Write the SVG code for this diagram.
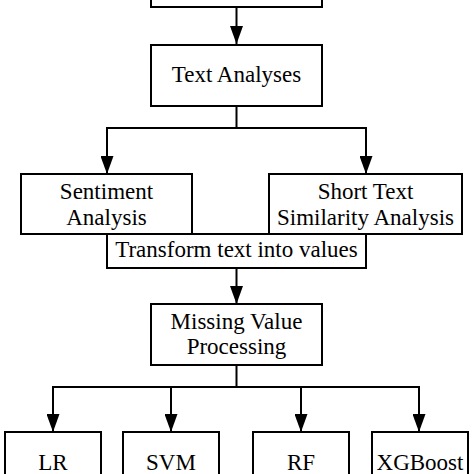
<svg xmlns="http://www.w3.org/2000/svg" width="474" height="474" viewBox="0 0 474 474">
<defs>
<style>
.box{fill:#fff;stroke:#000;stroke-width:2}
.t{font-family:"Liberation Serif","Times New Roman",serif;font-size:23px;fill:#000;text-anchor:middle}
.c{fill:none;stroke:#000;stroke-width:2}
</style>
<marker id="ah" viewBox="0 0 18 13" refX="18" refY="6.5" markerWidth="18" markerHeight="13" markerUnits="userSpaceOnUse" orient="auto">
<path d="M0,0 L18,6.5 L0,13 z" fill="#000"/>
</marker>
</defs>
<rect width="474" height="474" fill="#fff"/>
<g id="connectors">
<path class="c" d="M236.5,7 V44" marker-end="url(#ah)"/>
<path class="c" d="M236.5,106 V128 M107,128 H366"/>
<path class="c" d="M107,127 V174" marker-end="url(#ah)"/>
<path class="c" d="M366,127 V174" marker-end="url(#ah)"/>
<path class="c" d="M236.5,268 V304" marker-end="url(#ah)"/>
<path class="c" d="M236.5,365 V387 M53,387 H419"/>
<path class="c" d="M53,386 V432" marker-end="url(#ah)"/>
<path class="c" d="M171,386 V432" marker-end="url(#ah)"/>
<path class="c" d="M301,386 V432" marker-end="url(#ah)"/>
<path class="c" d="M419,386 V432" marker-end="url(#ah)"/>
</g>
<g id="top-node"><rect class="box" x="151" y="-30" width="171" height="37"/></g>
<g id="text-analyses"><rect class="box" x="151" y="45" width="171" height="61"/><text class="t" x="236.5" y="82">Text Analyses</text></g>
<g id="sentiment"><rect class="box" x="21" y="174" width="171" height="60"/><text class="t" x="106.5" y="199">Sentiment</text><text class="t" x="106.5" y="225">Analysis</text></g>
<g id="short-text"><rect class="box" x="269" y="174" width="193" height="60"/><text class="t" x="365.5" y="199">Short Text</text><text class="t" x="365.5" y="225">Similarity Analysis</text></g>
<g id="transform"><rect class="box" x="107" y="234" width="259" height="34"/><text class="t" x="236.5" y="257">Transform text into values</text></g>
<g id="missing"><rect class="box" x="151" y="304" width="171" height="61"/><text class="t" x="236.5" y="329">Missing Value</text><text class="t" x="236.5" y="354">Processing</text></g>
<g id="lr"><rect class="box" x="5" y="432" width="96" height="60"/><text class="t" x="53" y="470">LR</text></g>
<g id="svm"><rect class="box" x="123" y="432" width="96" height="60"/><text class="t" x="171" y="470">SVM</text></g>
<g id="rf"><rect class="box" x="253" y="432" width="96" height="60"/><text class="t" x="301" y="470">RF</text></g>
<g id="xgboost"><rect class="box" x="372" y="432" width="96" height="60"/><text class="t" x="420" y="470">XGBoost</text></g>
</svg>
